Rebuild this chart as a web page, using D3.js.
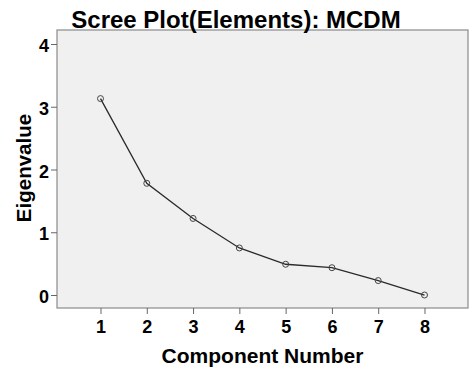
<!DOCTYPE html>
<html><head><meta charset="utf-8">
<script src="https://cdn.jsdelivr.net/npm/d3@7"></script>
<style>body{margin:0;background:#fff}svg{display:block}text{font-family:"Liberation Sans",Arial,sans-serif;font-weight:bold;fill:#000}</style>
</head><body>
<script>
const components = [1,2,3,4,5,6,7,8];
const eigenvalues = [3.13,1.78,1.22,0.75,0.49,0.435,0.23,0.0];
const yTicks = [0,1,2,3,4];
const title = "Scree Plot(Elements): MCDM";
const xLabel = "Component Number";
const yLabel = "Eigenvalue";

(function(){
const W=474,H=379;
const pL=57,pR=468,pT=30,pB=308;
const svg=d3.select("body").append("svg").attr("width",W).attr("height",H);
const x=d3.scaleLinear().domain([0.06,8.94]).range([pL,pR]);
const y=d3.scaleLinear().domain([-0.207,4.223]).range([pB,pT]);

svg.append("rect").attr("x",pL).attr("y",pT).attr("width",pR-pL).attr("height",pB-pT)
  .attr("fill","#f0f0f0").attr("stroke","#8a8a8a").attr("stroke-width",1.2);

const ya=svg.append("g").attr("transform",`translate(${pL},0)`)
  .call(d3.axisLeft(y).tickValues(yTicks).tickSize(6).tickPadding(2).tickFormat(d3.format("d")));
ya.select(".domain").remove();
ya.selectAll("line").attr("stroke","#666");
ya.selectAll("text").style("font-size","18px").attr("dy","0.42em");

const xa=svg.append("g").attr("transform",`translate(0,${pB})`)
  .call(d3.axisBottom(x).tickValues(components).tickSize(6).tickFormat(d3.format("d")));
xa.select(".domain").remove();
xa.selectAll("line").attr("stroke","#666");
xa.selectAll("text").style("font-size","18px").attr("y",25).attr("dy","0");

const line=d3.line().x((d,i)=>x(components[i])).y(d=>y(d));
svg.append("path").datum(eigenvalues).attr("d",line).attr("fill","none").attr("stroke","#2a2a2a").attr("stroke-width",1.3);
svg.selectAll("circle.pt").data(eigenvalues).enter().append("circle")
  .attr("cx",(d,i)=>x(components[i])).attr("cy",d=>y(d)).attr("r",3)
  .attr("fill","none").attr("stroke","#444").attr("stroke-width",1);

svg.append("text").attr("x",236).attr("y",28).attr("text-anchor","middle").style("font-size","24px").text(title);
svg.append("text").attr("x",262.5).attr("y",363).attr("text-anchor","middle").style("font-size","21px").text(xLabel);
svg.append("text").attr("transform",`translate(31,168) rotate(-90)`).attr("text-anchor","middle").style("font-size","20.5px").text(yLabel);
})();
</script>
</body></html>
